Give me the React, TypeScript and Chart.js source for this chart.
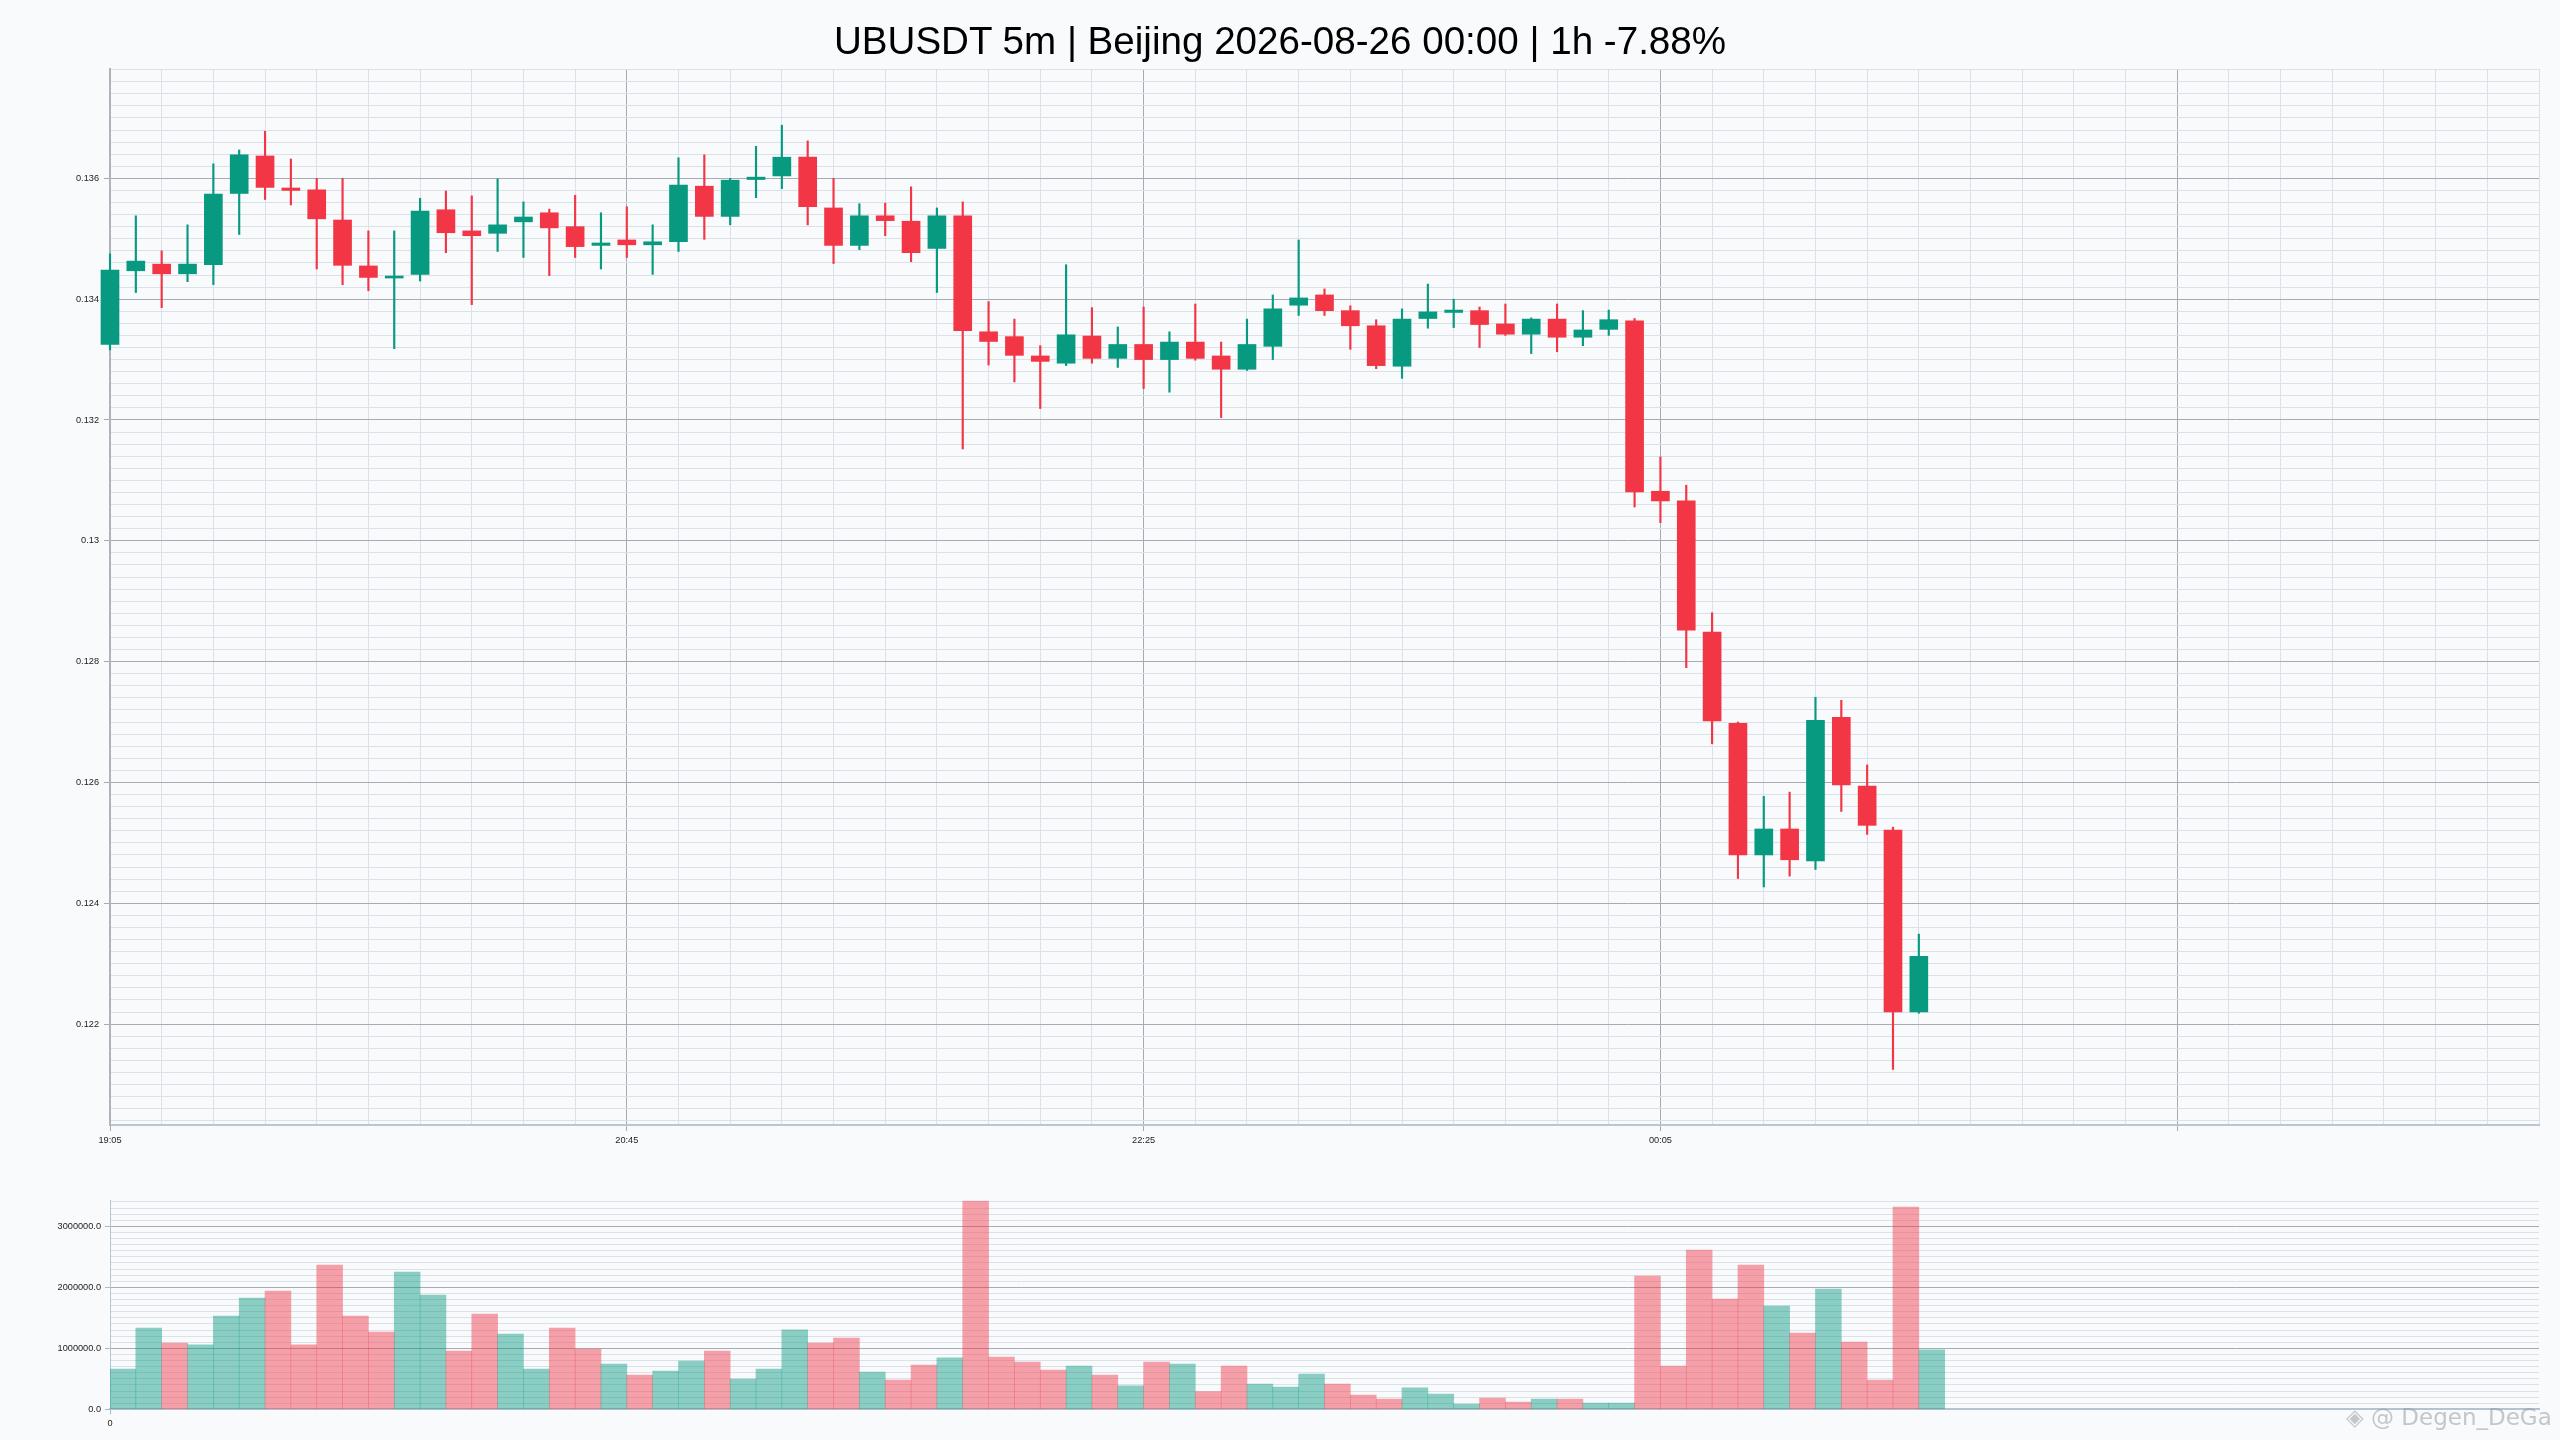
import React, { useEffect, useRef } from "react";
import { Chart, registerables } from "chart.js";

Chart.register(...registerables);

const TITLE = "UBUSDT 5m | Beijing 2026-08-26 00:00 | 1h -7.88%";

const times = [
  "19:05", "19:10", "19:15", "19:20", "19:25", "19:30", "19:35", "19:40", "19:45", "19:50",
  "19:55", "20:00", "20:05", "20:10", "20:15", "20:20", "20:25", "20:30", "20:35", "20:40",
  "20:45", "20:50", "20:55", "21:00", "21:05", "21:10", "21:15", "21:20", "21:25", "21:30",
  "21:35", "21:40", "21:45", "21:50", "21:55", "22:00", "22:05", "22:10", "22:15", "22:20",
  "22:25", "22:30", "22:35", "22:40", "22:45", "22:50", "22:55", "23:00", "23:05", "23:10",
  "23:15", "23:20", "23:25", "23:30", "23:35", "23:40", "23:45", "23:50", "23:55", "00:00",
  "00:05", "00:10", "00:15", "00:20", "00:25", "00:30", "00:35", "00:40", "00:45", "00:50",
  "00:55",
];

const opens = [
  0.13325, 0.13447, 0.13458, 0.13442, 0.13457, 0.13575, 0.13637, 0.13584, 0.13581, 0.13531,
  0.13455, 0.13435, 0.13441, 0.13548, 0.13513, 0.13509, 0.13528, 0.13543, 0.1352, 0.13489,
  0.13498, 0.1349, 0.13495, 0.13587, 0.13537, 0.13598, 0.13604, 0.13635, 0.13551, 0.13489,
  0.13538, 0.13529, 0.13484, 0.13538, 0.13346, 0.13338, 0.13306, 0.13294, 0.13339, 0.13302,
  0.13325, 0.133, 0.13329, 0.13306, 0.13284, 0.13322, 0.1339, 0.13407, 0.13381, 0.13356,
  0.13289, 0.13368, 0.13378, 0.13381, 0.13359, 0.13342, 0.13367, 0.13337, 0.1335, 0.13364,
  0.13082, 0.13066, 0.12849, 0.12698, 0.1248, 0.12523, 0.1247, 0.12708, 0.12594, 0.12521,
  0.1222,
];
const highs = [
  0.13475, 0.13538, 0.1348, 0.13523, 0.13624, 0.13647, 0.13678, 0.13632, 0.136, 0.136,
  0.13513, 0.13513, 0.13567, 0.13579, 0.13571, 0.13599, 0.13561, 0.13549, 0.13572, 0.13543,
  0.13553, 0.13523, 0.13634, 0.13639, 0.136, 0.13653, 0.13688, 0.13662, 0.136, 0.13558,
  0.13559, 0.13586, 0.13551, 0.13561, 0.13396, 0.13367, 0.13323, 0.13457, 0.13386, 0.13354,
  0.13387, 0.13346, 0.13392, 0.13329, 0.13367, 0.13407, 0.13498, 0.13417, 0.13389, 0.13366,
  0.13384, 0.13425, 0.134, 0.13387, 0.13392, 0.13369, 0.13392, 0.13381, 0.13382, 0.13368,
  0.13139, 0.13092, 0.12881, 0.127, 0.12577, 0.12584, 0.12741, 0.12736, 0.12629, 0.12526,
  0.12349,
];
const lows = [
  0.13316, 0.13411, 0.13386, 0.13429, 0.13424, 0.13507, 0.13565, 0.13556, 0.1345, 0.13424,
  0.13414, 0.13318, 0.1343, 0.13477, 0.13391, 0.13479, 0.13469, 0.13439, 0.13469, 0.1345,
  0.13469, 0.13441, 0.13479, 0.13499, 0.13523, 0.13568, 0.13583, 0.13523, 0.13459, 0.13482,
  0.13505, 0.13462, 0.13411, 0.13152, 0.13291, 0.13263, 0.13219, 0.1329, 0.13294, 0.13287,
  0.13252, 0.13246, 0.13299, 0.13204, 0.13282, 0.133, 0.13373, 0.13373, 0.13317, 0.13285,
  0.13269, 0.13352, 0.13353, 0.1332, 0.1334, 0.1331, 0.13313, 0.13323, 0.1334, 0.13056,
  0.1303, 0.1279, 0.12664, 0.12441, 0.12427, 0.12445, 0.12456, 0.12552, 0.12514, 0.12125,
  0.12218,
];
const closes = [
  0.13448, 0.13463, 0.13442, 0.13458, 0.13574, 0.13639, 0.13585, 0.1358, 0.13533, 0.13456,
  0.13436, 0.13437, 0.13546, 0.1351, 0.13505, 0.13523, 0.13536, 0.13518, 0.13487, 0.13493,
  0.1349, 0.13495, 0.13589, 0.13537, 0.13597, 0.13602, 0.13635, 0.13553, 0.13489, 0.13538,
  0.1353, 0.13477, 0.13538, 0.13348, 0.1333, 0.13307, 0.13297, 0.13341, 0.13302, 0.13325,
  0.133, 0.13329, 0.13302, 0.13284, 0.13325, 0.13384, 0.13402, 0.13381, 0.13356, 0.1329,
  0.13367, 0.13379, 0.13382, 0.13358, 0.13342, 0.13367, 0.13337, 0.13349, 0.13366, 0.13081,
  0.13066, 0.12852, 0.12702, 0.1248, 0.12523, 0.12472, 0.12703, 0.12596, 0.12529, 0.1222,
  0.12312,
];
const volumes = [
  661000, 1333000, 1087000, 1055000, 1530000, 1825000, 1940000, 1055000, 2366000, 1530000,
  1268000, 2251000, 1874000, 956000, 1563000, 1235000, 661000, 1333000, 989000, 743000,
  563000, 628000, 792000, 956000, 497000, 661000, 1301000, 1087000, 1169000, 612000,
  481000, 727000, 842000, 3420000, 858000, 776000, 645000, 710000, 563000, 383000,
  776000, 743000, 290000, 710000, 415000, 366000, 579000, 415000, 235000, 169000,
  350000, 251000, 87000, 186000, 120000, 169000, 169000, 104000, 104000, 2186000,
  710000, 2612000, 1809000, 2366000, 1694000, 1251000, 1973000, 1104000, 481000, 3317000,
  973000,
];

const UP = "#089981";
const DOWN = "#F23645";
const UP_VOL = "rgba(8,153,129,0.46)";
const DOWN_VOL = "rgba(242,54,69,0.46)";
const GRID_MINOR = "#DAE1E9";
const GRID_MAJOR = "#A7ABB3";
const BG = "#F8FAFC";
const FONT = "'Liberation Sans', Arial, Helvetica, sans-serif";
const TICK_FONT = { family: FONT, size: 9.2 };

const X_MIN = 0;
const X_MAX = 94;
const PRICE_MIN = 0.12033;
const PRICE_MAX = 0.13781;
const VOL_MAX = 3420000;

export default function App() {
  const mainRef = useRef<HTMLCanvasElement | null>(null);
  const volRef = useRef<HTMLCanvasElement | null>(null);

  useEffect(() => {
    const idx = opens.map((_, i) => i);
    const isUp = idx.map((i) => closes[i] >= opens[i]);

    const main = new Chart(mainRef.current as HTMLCanvasElement, {
      type: "bar",
      data: {
        datasets: [
          {
            label: "body",
            data: idx.map((i) => ({ x: i, y: [opens[i], closes[i]] })) as any,
            backgroundColor: idx.map((i) => (isUp[i] ? UP : DOWN)),
            borderWidth: 0,
            barThickness: 18,
            minBarLength: 2,
            grouped: false,
            order: 0,
            clip: false as any,
          } as any,
          {
            label: "wick",
            data: idx.map((i) => ({ x: i, y: [lows[i], highs[i]] })) as any,
            backgroundColor: idx.map((i) => (isUp[i] ? UP : DOWN)),
            borderWidth: 0,
            barThickness: 1.5,
            grouped: false,
            order: 1,
            clip: false as any,
          } as any,
        ],
      },
      options: {
        responsive: false,
        animation: false,
        devicePixelRatio: 1,
        layout: { padding: { top: 69, right: 21, left: 0, bottom: 0 } },
        plugins: {
          legend: { display: false },
          tooltip: { enabled: false },
          title: { display: false },
        },
        scales: {
          x: {
            type: "linear",
            min: X_MIN,
            max: X_MAX,
            offset: false,
            afterBuildTicks: (s: any) => {
              const t: any[] = [];
              for (let v = X_MIN; v <= X_MAX; v += 2) t.push({ value: v });
              s.ticks = t;
            },
            afterFit: (s: any) => {
              s.height = 35;
            },
            ticks: {
              autoSkip: false,
              maxRotation: 0,
              padding: 4,
              color: "#222",
              font: TICK_FONT,
              callback: (v: any) => (v % 20 === 0 && times[v] ? times[v] : ""),
            },
            grid: {
              offset: false,
              lineWidth: 1,
              tickLength: 6,
              color: (c: any) => (c.tick && c.tick.value % 20 === 0 ? GRID_MAJOR : GRID_MINOR),
              tickColor: (c: any) =>
                c.tick && c.tick.value % 20 === 0 ? GRID_MAJOR : "rgba(0,0,0,0)",
            },
            border: { color: "#BCC6D2", width: 2 },
          } as any,
          y: {
            type: "linear",
            min: PRICE_MIN,
            max: PRICE_MAX,
            beginAtZero: false,
            afterBuildTicks: (s: any) => {
              const t: any[] = [];
              for (let k = 1204; k <= 1378; k += 2) t.push({ value: k / 10000 });
              s.ticks = t;
            },
            afterFit: (s: any) => {
              s.width = 110;
            },
            ticks: {
              autoSkip: false,
              padding: 5,
              color: "#222",
              font: TICK_FONT,
              callback: (v: any) => {
                const k = Math.round(v * 10000);
                return k % 20 === 0 ? String(k / 10000) : "";
              },
            },
            grid: {
              lineWidth: 1,
              tickLength: 6,
              color: (c: any) =>
                c.tick && Math.round(c.tick.value * 10000) % 20 === 0 ? GRID_MAJOR : GRID_MINOR,
              tickColor: (c: any) =>
                c.tick && Math.round(c.tick.value * 10000) % 20 === 0
                  ? GRID_MAJOR
                  : "rgba(0,0,0,0)",
            },
            border: { color: "#AEB3BB", width: 2 },
          } as any,
        },
      },
    });

    const vol = new Chart(volRef.current as HTMLCanvasElement, {
      type: "bar",
      data: {
        datasets: [
          {
            label: "volume",
            data: idx.map((i) => ({ x: i + 0.5, y: volumes[i] })) as any,
            backgroundColor: idx.map((i) => (isUp[i] ? UP_VOL : DOWN_VOL)),
            borderWidth: 0,
            barPercentage: 1,
            categoryPercentage: 1,
          } as any,
        ],
      },
      options: {
        responsive: false,
        animation: false,
        devicePixelRatio: 1,
        layout: { padding: { top: 40.7, right: 21, left: 0, bottom: 0 } },
        plugins: {
          legend: { display: false },
          tooltip: { enabled: false },
          title: { display: false },
        },
        scales: {
          x: {
            type: "linear",
            min: X_MIN,
            max: X_MAX,
            offset: false,
            afterBuildTicks: (s: any) => {
              s.ticks = [{ value: 0 }];
            },
            afterFit: (s: any) => {
              s.height = 30.7;
            },
            ticks: {
              autoSkip: false,
              maxRotation: 0,
              padding: 4,
              color: "#222",
              font: TICK_FONT,
              callback: (v: any) => String(v),
            },
            grid: {
              offset: false,
              drawOnChartArea: false,
              tickLength: 5,
              tickColor: "#AEB8C4",
            },
            border: { color: "#B4C3CF", width: 2 },
          } as any,
          y: {
            type: "linear",
            min: 0,
            max: VOL_MAX,
            afterBuildTicks: (s: any) => {
              const t: any[] = [];
              for (let k = 0; k <= 34; k++) t.push({ value: k * 100000 });
              s.ticks = t;
            },
            afterFit: (s: any) => {
              s.width = 110;
            },
            ticks: {
              autoSkip: false,
              padding: 4,
              color: "#222",
              font: TICK_FONT,
              callback: (v: any) => {
                const k = Math.round(v / 100000);
                return k % 10 === 0 ? (k * 100000).toFixed(1) : "";
              },
            },
            grid: {
              lineWidth: 1,
              tickLength: 5,
              color: (c: any) =>
                c.tick && Math.round(c.tick.value / 100000) % 10 === 0 ? GRID_MAJOR : GRID_MINOR,
              tickColor: (c: any) =>
                c.tick && Math.round(c.tick.value / 100000) % 10 === 0
                  ? "#AEB8C4"
                  : "rgba(0,0,0,0)",
            },
            border: { color: "#B8C4D0", width: 1 },
          } as any,
        },
      },
    });

    return () => {
      main.destroy();
      vol.destroy();
    };
  }, []);

  return (
    <div
      style={{
        position: "fixed",
        left: 0,
        top: 0,
        width: 2560,
        height: 1440,
        background: BG,
        overflow: "hidden",
      }}
    >
      <canvas
        ref={mainRef}
        width={2560}
        height={1160}
        style={{ position: "absolute", left: 0, top: 0 }}
      />
      <canvas
        ref={volRef}
        width={2560}
        height={280}
        style={{ position: "absolute", left: 0, top: 1160 }}
      />
      <div
        style={{
          position: "absolute",
          left: 0,
          top: 22,
          width: 2560,
          textAlign: "center",
          fontFamily: FONT,
          fontSize: 38.6,
          lineHeight: "38px",
          color: "#000",
          whiteSpace: "nowrap",
        }}
      >
        {TITLE}
      </div>
      <div
        style={{
          position: "absolute",
          left: 2346,
          top: 1403,
          fontFamily: "'DejaVu Sans', sans-serif",
          fontSize: 23,
          lineHeight: "28px",
          color: "rgba(150,156,162,0.55)",
          whiteSpace: "nowrap",
        }}
      >
        ◈ @ Degen_DeGa
      </div>
    </div>
  );
}
